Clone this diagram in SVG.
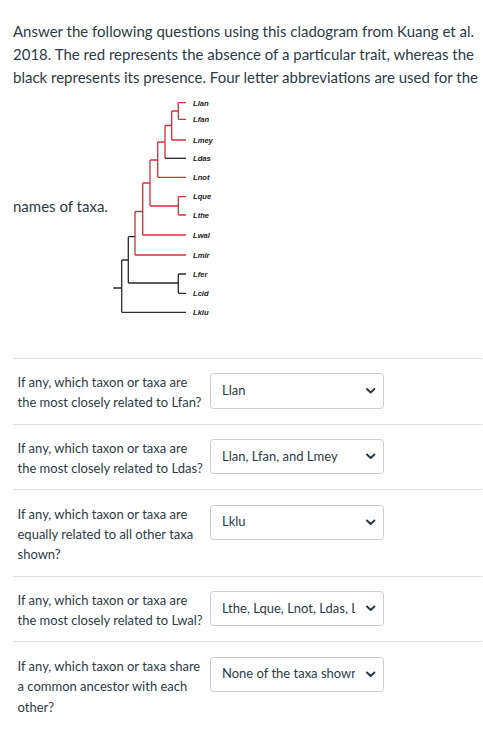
<svg xmlns="http://www.w3.org/2000/svg" width="483" height="735" viewBox="0 0 483 735">
<defs>
<style>
.hd{font-family:Lato,"Open Sans","Liberation Sans",sans-serif;font-size:15px;fill:#2d3b45}
.q{font-family:Lato,"Open Sans","Liberation Sans",sans-serif;font-size:13px;fill:#2d3b45}
.sel{font-family:Lato,"Open Sans","Liberation Sans",sans-serif;font-size:13px;fill:#2d3b45}
.box{fill:#fff;stroke:#c7cdd1;stroke-width:1}
.sep{stroke:#dcdfe2;stroke-width:1}
.chev{fill:none;stroke:#2d3b45;stroke-width:2;stroke-linecap:round;stroke-linejoin:round}
.tx{font-family:"Liberation Sans",Arial,sans-serif;font-size:7.6px;font-style:italic;font-weight:bold;fill:#222}
.r{fill:none;stroke:#d3313b;stroke-width:1.3}
.k{fill:none;stroke:#2a2a2a;stroke-width:1.3}
</style>
<clipPath id="clip"><rect x="215" y="580" width="140" height="120"/></clipPath>
</defs>
<rect width="483" height="735" fill="#fff"/>
<g id="intro">
<text class="hd" x="13" y="37">Answer the following questions using this cladogram from Kuang et al.</text>
<text class="hd" x="13" y="60">2018. The red represents the absence of a particular trait, whereas the</text>
<text class="hd" x="13" y="83">black represents its presence. Four letter abbreviations are used for the</text>
<text class="hd" x="13" y="212">names of taxa.</text>
</g>
<g id="connectors">
<path class="r" d="M178.3,102.7H186M178.3,119.3H186M178.3,102.7V119.3"/>
<path class="r" d="M171.7,111H178.3M171.7,140H186M171.7,111V140"/>
<path class="r" d="M165,125.5H171.7M165,125.5V158.3"/>
<path class="k" d="M165,158.3H186"/>
<path class="r" d="M157.7,142H165M157.7,177.3H186M157.7,142V177.3"/>
<path class="r" d="M178.3,196.7H186M178.3,215H186M178.3,196.7V215"/>
<path class="r" d="M150,160H157.7M150,206H178.3M150,160V206"/>
<path class="r" d="M142.7,183H150M142.7,235H186M142.7,183V235"/>
<path class="r" d="M135,211.5H142.7M135,255H186M135,211.5V255"/>
<path class="k" d="M128.3,236.7H135M128.3,236.7V283M128.3,283H178.3"/>
<path class="k" d="M178.3,274H186M178.3,293.3H186M178.3,274V293.3"/>
<path class="k" d="M121.7,260H128.3M121.7,260V312.3M121.7,312.3H186M113.3,288H121.7"/>
</g>
<g id="taxa">
<text class="tx" x="193" y="105.5">Llan</text>
<text class="tx" x="193" y="122">Lfan</text>
<text class="tx" x="193" y="142.7">Lmey</text>
<text class="tx" x="193" y="161">Ldas</text>
<text class="tx" x="193" y="180">Lnot</text>
<text class="tx" x="193" y="199.4">Lque</text>
<text class="tx" x="193" y="217.7">Lthe</text>
<text class="tx" x="193" y="237.7">Lwal</text>
<text class="tx" x="193" y="257.7">Lmir</text>
<text class="tx" x="193" y="276.7">Lfer</text>
<text class="tx" x="193" y="296">Lcid</text>
<text class="tx" x="193" y="315">Lklu</text>
</g>
<g id="separators">
<line class="sep" x1="13" y1="358.5" x2="482" y2="358.5"/>
<line class="sep" x1="13" y1="424.5" x2="482" y2="424.5"/>
<line class="sep" x1="13" y1="489.5" x2="482" y2="489.5"/>
<line class="sep" x1="13" y1="576.5" x2="482" y2="576.5"/>
<line class="sep" x1="13" y1="641.5" x2="482" y2="641.5"/>
</g>
<g id="q1">
<text class="q" x="17.5" y="387">If any, which taxon or taxa are</text>
<text class="q" x="17.5" y="407">the most closely related to Lfan?</text>
<rect class="box" x="210.5" y="373.5" width="173" height="35" rx="3"/>
<text class="sel" x="222" y="395">Llan</text>
<path class="chev" d="M367,389L370.7,392.5L374.4,389"/>
</g>
<g id="q2">
<text class="q" x="17.5" y="453">If any, which taxon or taxa are</text>
<text class="q" x="17.5" y="473">the most closely related to Ldas?</text>
<rect class="box" x="210.5" y="439.5" width="173" height="34" rx="3"/>
<text class="sel" x="222" y="460.5">Llan, Lfan, and Lmey</text>
<path class="chev" d="M367,454.5L370.7,458L374.4,454.5"/>
</g>
<g id="q3">
<text class="q" x="17.5" y="518.5">If any, which taxon or taxa are</text>
<text class="q" x="17.5" y="538.5">equally related to all other taxa</text>
<text class="q" x="17.5" y="559">shown?</text>
<rect class="box" x="210.5" y="505.5" width="173" height="34" rx="3"/>
<text class="sel" x="222" y="526">Lklu</text>
<path class="chev" d="M367,520.5L370.7,524L374.4,520.5"/>
</g>
<g id="q4">
<text class="q" x="17.5" y="604.5">If any, which taxon or taxa are</text>
<text class="q" x="17.5" y="624.5">the most closely related to Lwal?</text>
<rect class="box" x="210.5" y="591.5" width="173" height="34" rx="3"/>
<text class="sel" x="222" y="613" clip-path="url(#clip)">Lthe, Lque, Lnot, Ldas, Lmey, Lfan, and Llan</text>
<path class="chev" d="M367,606.5L370.7,610L374.4,606.5"/>
</g>
<g id="q5">
<text class="q" x="17.5" y="670.5">If any, which taxon or taxa share</text>
<text class="q" x="17.5" y="690.5">a common ancestor with each</text>
<text class="q" x="17.5" y="711.5">other?</text>
<rect class="box" x="210.5" y="657.5" width="173" height="34" rx="3"/>
<text class="sel" x="222" y="678" clip-path="url(#clip)">None of the taxa shown</text>
<path class="chev" d="M367,672.5L370.7,676L374.4,672.5"/>
</g>
</svg>
